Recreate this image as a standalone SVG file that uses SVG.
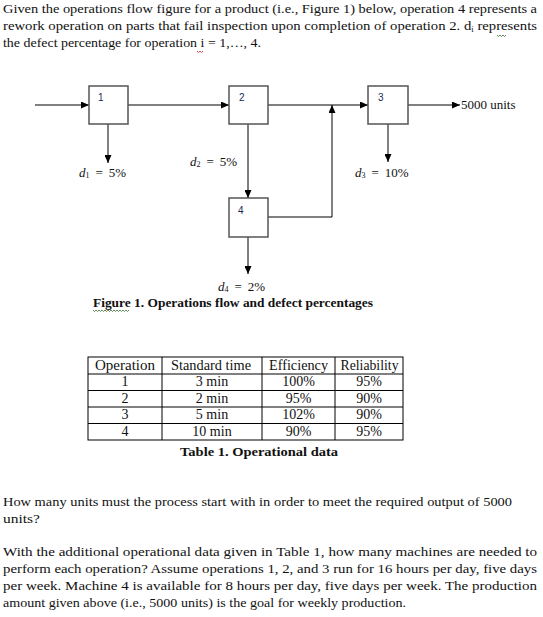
<svg xmlns="http://www.w3.org/2000/svg" width="543" height="617" viewBox="0 0 543 617">
<defs>
<marker id="ah" markerWidth="8" markerHeight="7" refX="8" refY="3.5" orient="auto" markerUnits="userSpaceOnUse"><path d="M0,0 L8,3.5 L0,7 z" fill="#000"/></marker>
<style>
.t{font-family:"Liberation Serif",serif;font-size:13.5px;fill:#111}
.b{font-weight:bold}
.box{fill:#fff;stroke:#555;stroke-width:1.5}
.bl{font-family:"Liberation Sans",sans-serif;font-size:10px;fill:#1a2a55}
.c{fill:none;stroke:#000;stroke-width:1}
.m{font-family:"Liberation Serif",serif;font-size:13px;fill:#111}
.tb{font-family:"Liberation Serif",serif;font-size:14px;fill:#111;text-anchor:middle}
.tl{stroke:#000;stroke-width:1}
.sq{fill:none;stroke-width:0.8}
</style>
</defs>
<rect width="543" height="617" fill="#fff"/>
<g id="intro">
<text class="t" x="3" y="13" textLength="534" lengthAdjust="spacingAndGlyphs">Given the operations flow figure for a product (i.e., Figure 1) below, operation 4 represents a</text>
<text class="t" x="3" y="30" textLength="534" lengthAdjust="spacingAndGlyphs">rework operation on parts that fail inspection upon completion of operation 2. d<tspan font-size="8" dy="2">i</tspan><tspan dy="-2"> represents</tspan></text>
<text class="t" x="3" y="47" textLength="258" lengthAdjust="spacingAndGlyphs">the defect percentage for operation i = 1,…, 4.</text>
<path class="sq" stroke="#3a6e2e" d="M497,35 l1.5,1.5 l1.5,-1.5 l1.5,1.5 l1.5,-1.5 l1.5,1.5 l1.5,-1.5"/>
<path class="sq" stroke="#d02020" d="M197,51 l1.5,1.5 l1.5,-1.5 l1.5,1.5 l1.5,-1.5"/>
</g>
<g id="connectors">
<line class="c" x1="35" y1="105" x2="89" y2="105" marker-end="url(#ah)"/>
<line class="c" x1="128" y1="105" x2="229" y2="105" marker-end="url(#ah)"/>
<line class="c" x1="268" y1="105" x2="368" y2="105" marker-end="url(#ah)"/>
<line class="c" x1="408" y1="105" x2="460" y2="105" marker-end="url(#ah)"/>
<line class="c" x1="108" y1="124" x2="108" y2="163" marker-end="url(#ah)"/>
<line class="c" x1="248" y1="124" x2="248" y2="198" marker-end="url(#ah)"/>
<line class="c" x1="388" y1="124" x2="388" y2="162" marker-end="url(#ah)"/>
<line class="c" x1="248" y1="237" x2="248" y2="274" marker-end="url(#ah)"/>
<polyline class="c" points="268,217 332,217 332,105" marker-end="url(#ah)"/>
</g>
<g id="op1"><rect class="box" x="89" y="86" width="39" height="38"/><text class="bl" x="98" y="101">1</text></g>
<g id="op2"><rect class="box" x="229" y="86" width="39" height="38"/><text class="bl" x="239" y="101">2</text></g>
<g id="op3"><rect class="box" x="368" y="86" width="40" height="38"/><text class="bl" x="378" y="101">3</text></g>
<g id="op4"><rect class="box" x="229" y="198" width="39" height="39"/><text class="bl" x="238" y="214">4</text></g>
<g id="labels">
<text class="m" x="461" y="109" font-size="11">5000 units</text>
<text class="m" x="79" y="177"><tspan font-style="italic">d</tspan><tspan font-size="8" dy="1">1</tspan><tspan dy="-1" dx="6">=</tspan><tspan dx="6">5%</tspan></text>
<text class="m" x="190" y="166"><tspan font-style="italic">d</tspan><tspan font-size="8" dy="1">2</tspan><tspan dy="-1" dx="6">=</tspan><tspan dx="6">5%</tspan></text>
<text class="m" x="355" y="177"><tspan font-style="italic">d</tspan><tspan font-size="8" dy="1">3</tspan><tspan dy="-1" dx="6">=</tspan><tspan dx="6">10%</tspan></text>
<text class="m" x="218" y="291"><tspan font-style="italic">d</tspan><tspan font-size="8" dy="1">4</tspan><tspan dy="-1" dx="6">=</tspan><tspan dx="6">2%</tspan></text>
<text class="t b" x="93" y="307" textLength="280" lengthAdjust="spacingAndGlyphs">Figure 1. Operations flow and defect percentages</text>
<path class="sq" stroke="#3a6e2e" d="M93,310 l1.5,1.5 l1.5,-1.5 l1.5,1.5 l1.5,-1.5 l1.5,1.5 l1.5,-1.5 l1.5,1.5 l1.5,-1.5 l1.5,1.5 l1.5,-1.5 l1.5,1.5 l1.5,-1.5 l1.5,1.5 l1.5,-1.5 l1.5,1.5 l1.5,-1.5 l1.5,1.5 l1.5,-1.5 l1.5,1.5 l1.5,-1.5 l1.5,1.5 l1.5,-1.5 l1.5,1.5 l1.5,-1.5"/>
</g>
<g id="table">
<rect x="88" y="357" width="315" height="83" fill="none" stroke="#000" stroke-width="1"/>
<line class="tl" x1="88" y1="374" x2="403" y2="374"/>
<line class="tl" x1="88" y1="390.5" x2="403" y2="390.5"/>
<line class="tl" x1="88" y1="407" x2="403" y2="407"/>
<line class="tl" x1="88" y1="423.5" x2="403" y2="423.5"/>
<line class="tl" x1="162" y1="357" x2="162" y2="440"/>
<line class="tl" x1="262" y1="357" x2="262" y2="440"/>
<line class="tl" x1="335" y1="357" x2="335" y2="440"/>
<text class="tb" x="125" y="370" textLength="60" lengthAdjust="spacingAndGlyphs">Operation</text>
<text class="tb" x="211" y="370" textLength="80" lengthAdjust="spacingAndGlyphs">Standard time</text>
<text class="tb" x="298.5" y="370" textLength="59" lengthAdjust="spacingAndGlyphs">Efficiency</text>
<text class="tb" x="369.5" y="370" textLength="58" lengthAdjust="spacingAndGlyphs">Reliability</text>
<text class="tb" x="125" y="386">1</text><text class="tb" x="212" y="386">3 min</text><text class="tb" x="298.5" y="386">100%</text><text class="tb" x="369" y="386">95%</text>
<text class="tb" x="125" y="402.5">2</text><text class="tb" x="212" y="402.5">2 min</text><text class="tb" x="298.5" y="402.5">95%</text><text class="tb" x="369" y="402.5">90%</text>
<text class="tb" x="125" y="419">3</text><text class="tb" x="212" y="419">5 min</text><text class="tb" x="298.5" y="419">102%</text><text class="tb" x="369" y="419">90%</text>
<text class="tb" x="125" y="435.5">4</text><text class="tb" x="212" y="435.5">10 min</text><text class="tb" x="298.5" y="435.5">90%</text><text class="tb" x="369" y="435.5">95%</text>
<text class="t b" x="180" y="456" textLength="158" lengthAdjust="spacingAndGlyphs">Table 1. Operational data</text>
</g>
<g id="questions">
<text class="t" x="3" y="506" textLength="509" lengthAdjust="spacingAndGlyphs">How many units must the process start with in order to meet the required output of 5000</text>
<text class="t" x="3" y="523" textLength="37" lengthAdjust="spacingAndGlyphs">units?</text>
<text class="t" x="3" y="556" textLength="534" lengthAdjust="spacingAndGlyphs">With the additional operational data given in Table 1, how many machines are needed to</text>
<text class="t" x="3" y="573" textLength="534" lengthAdjust="spacingAndGlyphs">perform each operation? Assume operations 1, 2, and 3 run for 16 hours per day, five days</text>
<text class="t" x="3" y="590" textLength="534" lengthAdjust="spacingAndGlyphs">per week. Machine 4 is available for 8 hours per day, five days per week. The production</text>
<text class="t" x="3" y="607" textLength="403" lengthAdjust="spacingAndGlyphs">amount given above (i.e., 5000 units) is the goal for weekly production.</text>
</g>
</svg>
